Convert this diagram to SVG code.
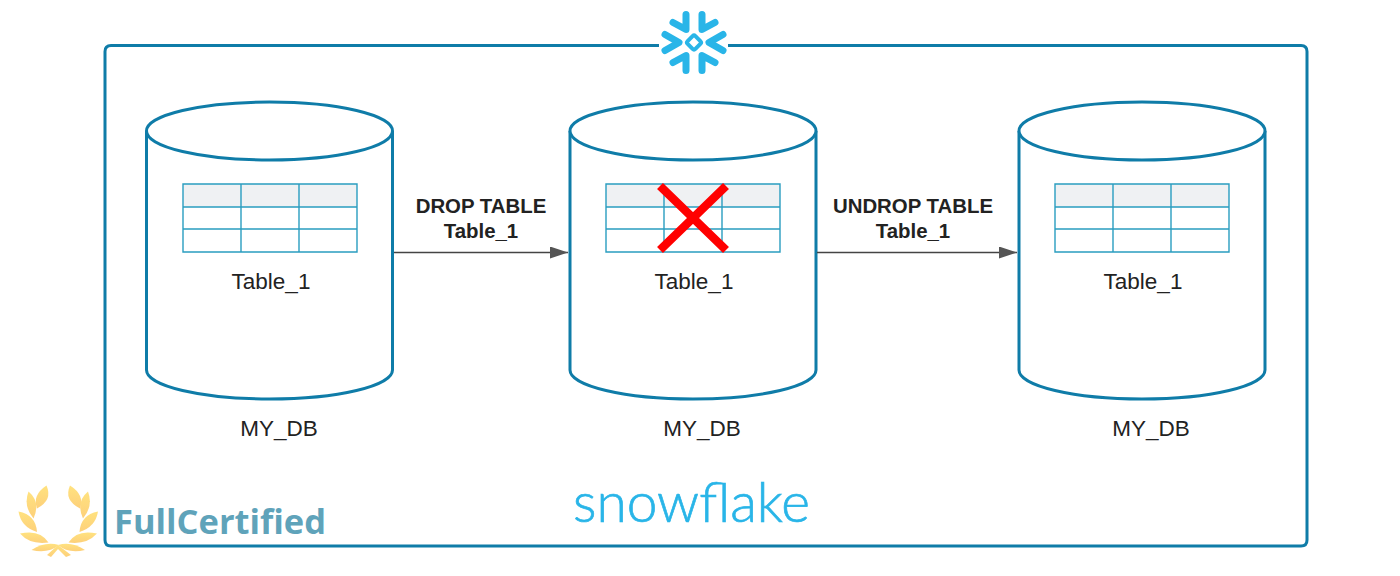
<svg xmlns="http://www.w3.org/2000/svg" width="1400" height="576" viewBox="0 0 1400 576">
<style>
.cyl{fill:#fff;stroke:#0f7ca8;stroke-width:3}
.grid{fill:none;stroke:#2a9dc0;stroke-width:1.4}
.head{fill:#eff1f3;stroke:none}
.t{font-family:"Liberation Sans",Arial,sans-serif;font-size:22.500px;fill:#222;text-anchor:middle}
.b{font-family:"Liberation Sans",Arial,sans-serif;font-size:20.400px;font-weight:bold;fill:#222;text-anchor:middle}
.conn{fill:none;stroke:#444;stroke-width:1.6}
.sf{fill:none;stroke:#29b5e8;stroke-width:7;stroke-linecap:round;stroke-linejoin:round}
.x{stroke:#f00;stroke-width:8.500}
.leaf{fill:url(#gold)}
</style>
<defs>
<marker id="arr" markerUnits="userSpaceOnUse" markerWidth="18" markerHeight="12" refX="18" refY="6" orient="auto"><path d="M0 0L18 6L0 12Z" fill="#555"/></marker>
<linearGradient id="gold" x1="0" y1="0" x2="0" y2="1"><stop offset="0" stop-color="#ffe27f"/><stop offset="1" stop-color="#fdd07a"/></linearGradient>
<g id="cylShape">
<path class="cyl" d="M0 29V268C0 284 55 297 123 297S246 284 246 268V29"/>
<ellipse class="cyl" cx="123" cy="29" rx="123" ry="29"/>
</g>
<g id="tableShape">
<rect class="head" x="0" y="0" width="174" height="23"/>
<path class="grid" d="M0 0H174V68H0ZM0 23H174M0 45H174M58 0V68M116 0V68"/>
</g>
</defs>

<g id="frame"><path d="M659 45.500H111Q105 45.500 105 51.500V540Q105 546 111 546H1301Q1307 546 1307 540V51.500Q1307 45.500 1301 45.500H728" fill="none" stroke="#0f7ca8" stroke-width="3"/></g>

<g id="snowflake-icon" transform="translate(694 42.500)">
<path class="sf" d="M-8-28V-13L-21-20"/><path class="sf" d="M8-28V-13L21-20"/>
<path class="sf" d="M-29-8L-15 0L-29 8"/><path class="sf" d="M29-8L15 0L29 8"/>
<path class="sf" d="M-8 28V13L-21 20"/><path class="sf" d="M8 28V13L21 20"/>
<rect x="-5.500" y="-5.500" width="11" height="11" rx="2" transform="rotate(45)" fill="none" stroke="#29b5e8" stroke-width="4"/>
</g>

<g id="db-left">
<use href="#cylShape" x="146.500" y="102"/>
<use href="#tableShape" x="183" y="184"/>
<text class="t" x="271" y="288.500">Table_1</text>
<text class="t" x="279" y="436">MY_DB</text>
</g>
<g id="db-middle">
<use href="#cylShape" x="570" y="102"/>
<use href="#tableShape" x="606" y="184"/>
<path class="x" d="M660 186L726 250M726 186L660 250"/>
<text class="t" x="694" y="288.500">Table_1</text>
<text class="t" x="702" y="436">MY_DB</text>
</g>
<g id="db-right">
<use href="#cylShape" x="1019" y="102"/>
<use href="#tableShape" x="1055" y="184"/>
<text class="t" x="1143" y="288.500">Table_1</text>
<text class="t" x="1151" y="436">MY_DB</text>
</g>

<g id="connectors">
<path class="conn" d="M394 252.500H568" marker-end="url(#arr)"/>
<path class="conn" d="M817 252.500H1017" marker-end="url(#arr)"/>
</g>
<g id="label-drop"><text class="b" x="481" y="213">DROP TABLE</text><text class="b" x="481" y="238">Table_1</text></g>
<g id="label-undrop"><text class="b" x="913" y="213">UNDROP TABLE</text><text class="b" x="913" y="238">Table_1</text></g>

<g id="snowflake-word"><text x="573" y="522" font-family="Lato,'Noto Sans',sans-serif" font-weight="300" font-size="55" fill="#29b5e8" stroke="#29b5e8" stroke-width="0.700" textLength="237" lengthAdjust="spacingAndGlyphs">snowflake</text></g>

<g id="fullcertified">
<g id="laurel">
<path class="leaf" d="M46.500 485.500Q53 500 37 508.500Q32 495 46.500 485.500Z"/>
<path class="leaf" d="M28.500 491.500Q41 502 33.500 518.500Q23 506 28.500 491.500Z"/>
<path class="leaf" d="M18.500 511.500Q36 515 37 532Q21 527 18.500 511.500Z"/>
<path class="leaf" d="M20 533.500Q40 529 48.500 542.500Q30 545 20 533.500Z"/>
<path class="leaf" d="M31.500 550Q45 541 59 545Q48 554 31.500 550Z"/>
<path class="leaf" d="M70 485.500Q63.500 500 80 508.500Q85 495 70 485.500Z"/>
<path class="leaf" d="M88 491.500Q75.500 502 83 518.500Q93.500 506 88 491.500Z"/>
<path class="leaf" d="M98 511.500Q80.500 515 79.500 532Q95.500 527 98 511.500Z"/>
<path class="leaf" d="M97 533.500Q77 529 68.500 542.500Q86.500 545 97 533.500Z"/>
<path class="leaf" d="M85 550Q71.500 541 58 545Q68.500 554 85 550Z"/>
<path class="leaf" d="M58 545L47 555L51 557L58 549L66 557L71 555Z"/>
</g>
<text x="114" y="534" font-family="'Open Sans','Noto Sans',sans-serif" font-weight="700" font-size="33.500" fill="#5fa3ba" textLength="212" lengthAdjust="spacingAndGlyphs">FullCertified</text>
</g>
</svg>
